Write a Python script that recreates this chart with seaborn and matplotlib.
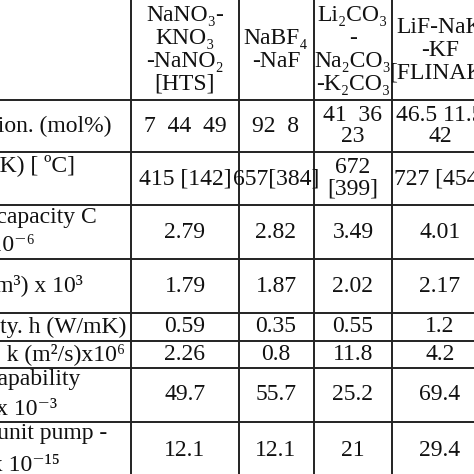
import matplotlib.pyplot as plt
import seaborn as sns

sns.set_theme(style="white")
plt.rcParams["font.family"] = ["Liberation Serif", "DejaVu Serif"]

# column headers (salts)
headers = [
    "NaNO₃-\nKNO₃\n-NaNO₂\n[HTS]",
    "NaBF₄\n-NaF",
    "Li₂CO₃\n-\nNa₂CO₃\n-K₂CO₃",
    "LiF-NaK\n-KF\n[FLINAK]",
]
# row labels, each line with its right end (the left part is cropped off)
row_labels = [
    [("Composition. (mol%)", 112)],
    [("Tm (K) [ ºC]", 75)],
    [("Heat capacity C", 97), ("p (J/kg K) x10⁻⁶", 35)],
    [("Density ρ (kg/m³) x 10³", 83)],
    [("Conductivity. h (W/mK)", 126)],
    [("Diffusivity. k (m²/s)x10⁶", 125)],
    [("Heat transport capability", 80), ("(W/m²K)⁶ x 10⁻³", 57)],
    [("Power per unit pump -", 107), ("(W) x 10⁻¹⁵", 60)],
]
values = [
    ["7  44  49", "92  8", "41  36\n23", "46.5 11.5\n42"],
    ["415 [142]", "657[384]", "672\n[399]", "727 [454]"],
    ["2.79", "2.82", "3.49", "4.01"],
    ["1.79", "1.87", "2.02", "2.17"],
    ["0.59", "0.35", "0.55", "1.2"],
    ["2.26", "0.8", "11.8", "4.2"],
    ["49.7", "55.7", "25.2", "69.4"],
    ["12.1", "12.1", "21", "29.4"],
]

col_edges = [131, 239, 314, 392, 520]
col_centers = [185, 276, 353, 440]
row_edges = [100, 152, 205, 259, 313, 341, 368, 422, 490]

fig = plt.figure(figsize=(4.74, 4.74), dpi=100)
ax = fig.add_axes([0, 0, 1, 1])
ax.set_xlim(0, 474)
ax.set_ylim(474, 0)
ax.axis("off")

lc = "#222222"
for x in col_edges[:-1]:
    ax.plot([x, x], [-5, 480], color=lc, lw=1.4)
for y in row_edges[:-1]:
    ax.plot([-5, 480], [y, y], color=lc, lw=1.4)

fs = 17
for xc, h in zip(col_centers, headers):
    ax.text(xc, 50, h, ha="center", va="center", fontsize=fs,
            linespacing=1.12, color="#111111")

for i, (labs, vals) in enumerate(zip(row_labels, values)):
    top, bot = row_edges[i], row_edges[i + 1]
    if i == len(values) - 1:
        bot = 478
    yc = (top + bot) / 2
    if len(labs) == 1:
        ys = [yc] if i != 1 else [top + 13]
    else:
        ys = [top + 12, bot - 14]
    for (s, xr), y in zip(labs, ys):
        ax.text(xr, y, s, ha="right", va="center", fontsize=fs, color="#111111")
    for xc, v in zip(col_centers, vals):
        ax.text(xc, yc, v, ha="center", va="center", fontsize=fs,
                linespacing=1.05, color="#111111")

fig.savefig("out.png", dpi=100)
